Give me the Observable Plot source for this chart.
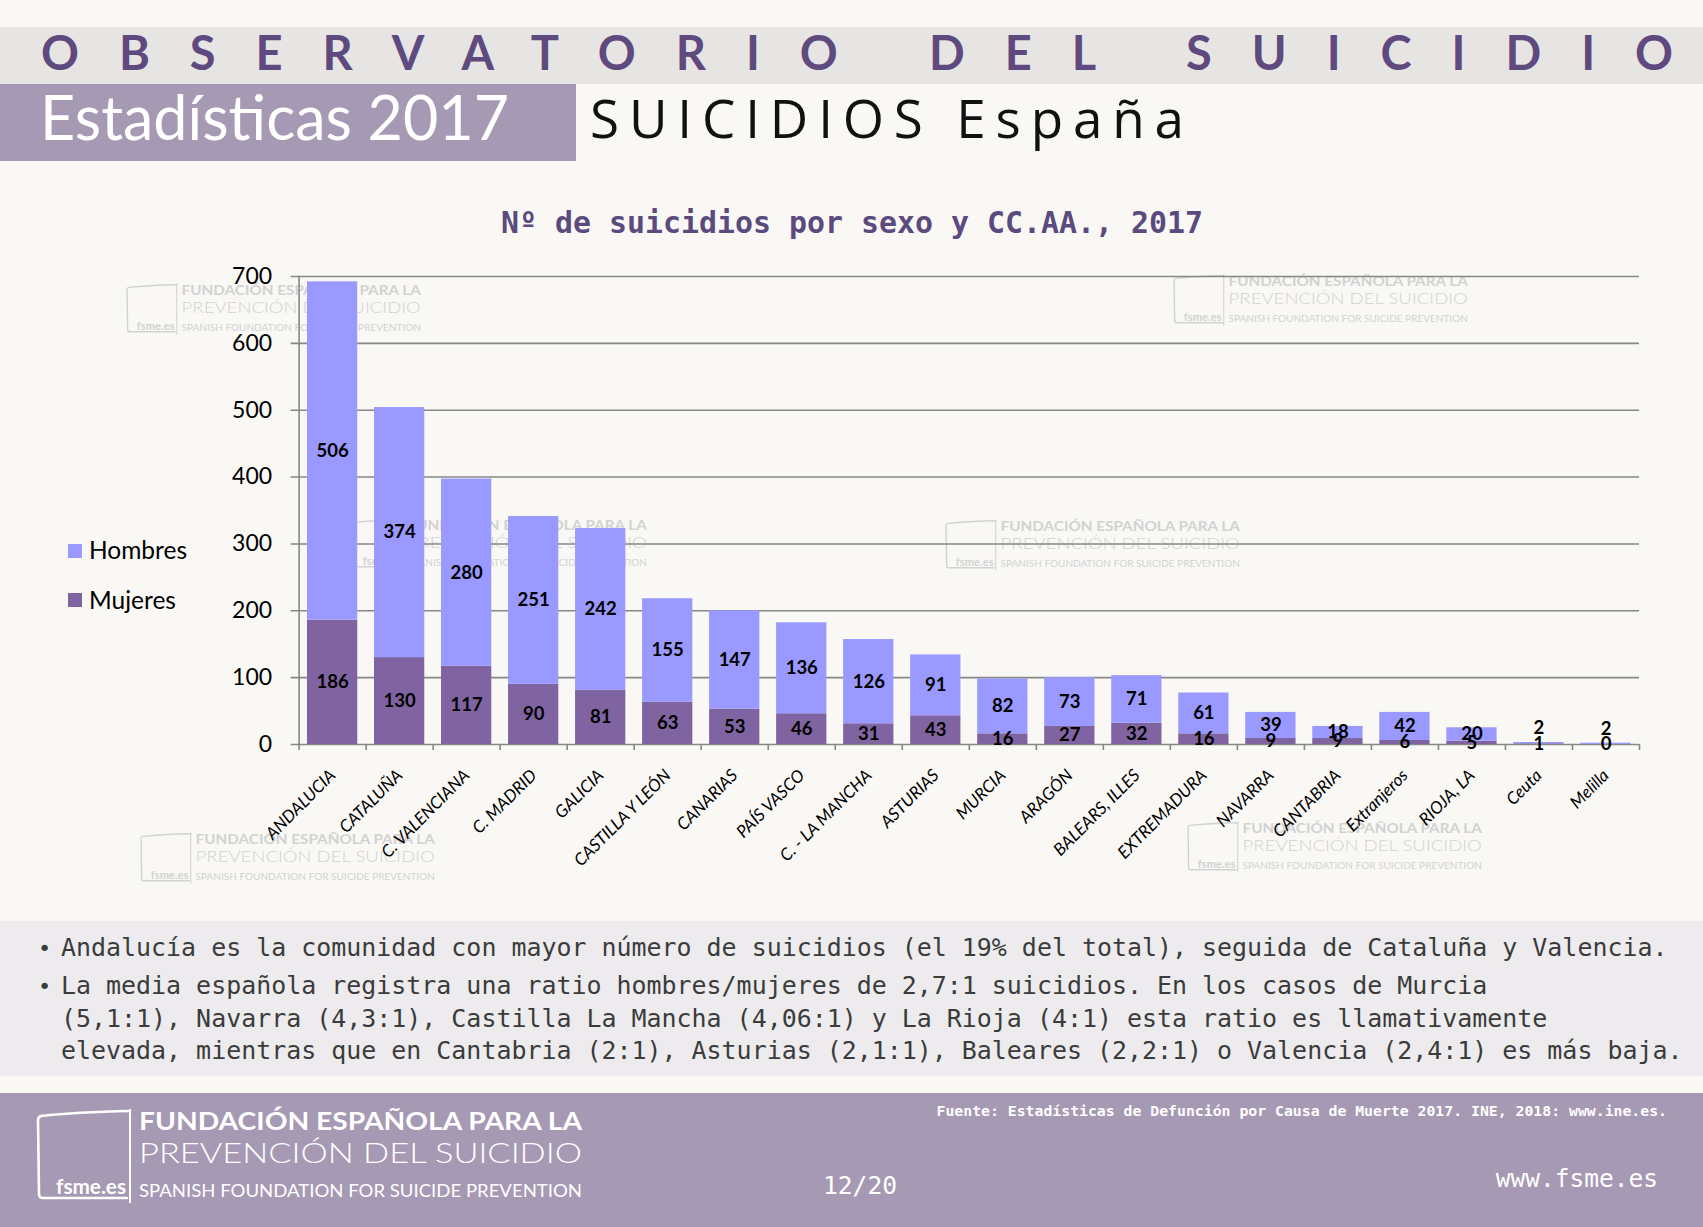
<!DOCTYPE html>
<html lang="es">
<head>
<meta charset="utf-8">
<title>Suicidios por sexo y CC.AA., 2017</title>
<script src="https://cdn.jsdelivr.net/npm/d3@7"></script>
<script src="https://cdn.jsdelivr.net/npm/@observablehq/plot@0.6"></script>
<style>
  html, body { margin: 0; padding: 0; background: #f9f8f5; }
  #page { position: relative; width: 1703px; height: 1227px; overflow: hidden; background: #f9f8f5; }
  #page svg { position: absolute; left: 0; }
</style>
</head>
<body>
<div id="page"></div>
<script>
// ---- Datos: suicidios por comunidad autónoma y sexo, 2017 ----
const regiones = ["ANDALUCIA", "CATALUÑA", "C. VALENCIANA", "C. MADRID", "GALICIA", "CASTILLA Y LEÓN",
  "CANARIAS", "PAÍS VASCO", "C. - LA MANCHA", "ASTURIAS", "MURCIA", "ARAGÓN", "BALEARS, ILLES",
  "EXTREMADURA", "NAVARRA", "CANTABRIA", "Extranjeros", "RIOJA, LA", "Ceuta", "Melilla"];
const hombres = [506, 374, 280, 251, 242, 155, 147, 136, 126, 91, 82, 73, 71, 61, 39, 18, 42, 20, 2, 2];
const mujeres = [186, 130, 117, 90, 81, 63, 53, 46, 31, 43, 16, 27, 32, 16, 9, 9, 6, 5, 1, 0];
const series = ["Hombres", "Mujeres"];
const colores = ["#9999ff", "#8064a2"];
const yTicks = [0, 100, 200, 300, 400, 500, 600, 700];

// ---- Textos ----
const cabecera = "OBSERVATORIO DEL SUICIDIO";
const subtitulo = "Estadísticas 2017";
const tema = "SUICIDIOS España";
const titulo = "Nº de suicidios por sexo y CC.AA., 2017";
const notas = [
  ["Andalucía es la comunidad con mayor número de suicidios (el 19% del total), seguida de Cataluña y Valencia."],
  ["La media española registra una ratio hombres/mujeres de 2,7:1 suicidios. En los casos de Murcia",
   "(5,1:1), Navarra (4,3:1), Castilla La Mancha (4,06:1) y La Rioja (4:1) esta ratio es llamativamente",
   "elevada, mientras que en Cantabria (2:1), Asturias (2,1:1), Baleares (2,2:1) o Valencia (2,4:1) es más baja."]
];
const fuente = "Fuente: Estadísticas de Defunción por Causa de Muerte 2017. INE, 2018: www.ine.es.";
const pagina = "12/20";
const web = "www.fsme.es";
const logoLineas = ["FUNDACIÓN ESPAÑOLA PARA LA", "PREVENCIÓN DEL SUICIDIO", "SPANISH FOUNDATION FOR SUICIDE PREVENTION"];
const logoSigla = "fsme.es";

const PURPURA = "#5e4a7e";
const MONO = "'DejaVu Sans Mono', 'Liberation Mono', monospace";
const SANS = "Lato, 'Open Sans', sans-serif";

const page = d3.select("#page");

// ---- Capa de fondo: cabecera, marcas de agua, notas y pie ----
const bg = page.append("svg").attr("width", 1703).attr("height", 1227).style("top", "0px");

// Logotipo de la fundación (se usa en el pie y como marca de agua)
function logo(parent, x, y, s, color) {
  const g = parent.append("g").attr("transform", `translate(${x},${y}) scale(${s})`);
  g.append("path")
    .attr("d", "M94,5 Q40,6 5,10 Q2,11 2,14 L3,88 Q3,92 7,92 L91,92")
    .attr("fill", "none").attr("stroke", color).attr("stroke-width", 2.6).attr("stroke-linecap", "round");
  g.append("line").attr("x1", 94).attr("x2", 94).attr("y1", 3).attr("y2", 97)
    .attr("stroke", color).attr("stroke-width", 2);
  g.append("text").attr("x", 20).attr("y", 88).attr("textLength", 70).attr("lengthAdjust", "spacingAndGlyphs")
    .attr("font-family", SANS).attr("font-weight", 700).attr("font-size", 21).attr("fill", color).text(logoSigla);
  const estilos = [
    {y: 24, size: 24, weight: 700},
    {y: 57, size: 28, weight: 300},
    {y: 91, size: 17, weight: 400}
  ];
  logoLineas.forEach((t, i) => {
    g.append("text").attr("x", 103).attr("y", estilos[i].y)
      .attr("textLength", 443).attr("lengthAdjust", "spacingAndGlyphs")
      .attr("font-family", SANS).attr("font-weight", estilos[i].weight)
      .attr("font-size", estilos[i].size).attr("fill", color).text(t);
  });
}

// Marcas de agua
const marcas = [[128, 285], [1175, 276], [354, 520], [947, 521], [142, 834], [1189, 823]];
marcas.forEach(([x, y]) => logo(bg, x - 2, y - 3, 0.54, "#d2d2d2"));

// Franja gris con el nombre del observatorio (espaciado amplio entre letras)
bg.append("rect").attr("x", 0).attr("y", 27).attr("width", 1703).attr("height", 57).attr("fill", "#e6e5e3");
bg.append("text").attr("x", 41).attr("y", 70)
  .attr("textLength", 1632).attr("lengthAdjust", "spacing")
  .attr("font-family", SANS).attr("font-weight", 700).attr("font-size", 47).attr("fill", PURPURA)
  .text(cabecera);

// Bloque "Estadísticas 2017" y tema
bg.append("rect").attr("x", 0).attr("y", 84).attr("width", 576).attr("height", 77).attr("fill", "#a599b4");
bg.append("text").attr("x", 40).attr("y", 140).attr("font-family", SANS).attr("font-size", 61)
  .attr("fill", "#ffffff").text(subtitulo);
bg.append("text").attr("x", 590).attr("y", 138).attr("font-family", "'Open Sans', sans-serif")
  .attr("font-size", 53).attr("textLength", 594).attr("lengthAdjust", "spacing")
  .attr("fill", "#111111").text(tema);

// Título del gráfico
bg.append("text").attr("x", 852).attr("y", 233).attr("text-anchor", "middle")
  .attr("font-family", MONO).attr("font-weight", 700).attr("font-size", 29.9)
  .attr("fill", "#5b4a7e").text(titulo);

// Leyenda
series.forEach((s, i) => {
  bg.append("rect").attr("x", 68).attr("y", 544 + i * 49).attr("width", 14).attr("height", 14).attr("fill", colores[i]);
  bg.append("text").attr("x", 89).attr("y", 559 + i * 49.5).attr("font-family", SANS)
    .attr("font-size", 24.5).attr("fill", "#000").text(s);
});

// Caja de notas
bg.append("rect").attr("x", 0).attr("y", 921).attr("width", 1703).attr("height", 155).attr("fill", "#edebee");
const baselines = [[956], [994, 1026.5, 1059]];
notas.forEach((lineas, k) => {
  bg.append("text").attr("x", 38).attr("y", baselines[k][0]).attr("font-family", MONO)
    .attr("font-size", 22).attr("fill", "#3b3b3b").text("•");
  lineas.forEach((t, j) => {
    bg.append("text").attr("x", 61).attr("y", baselines[k][j]).attr("font-family", MONO)
      .attr("font-size", 24.95).attr("fill", "#3b3b3b").text(t);
  });
});

// Pie de página
bg.append("rect").attr("x", 0).attr("y", 1093).attr("width", 1703).attr("height", 134).attr("fill", "#a699b4");
logo(bg, 36, 1106, 1, "#ffffff");
bg.append("text").attr("x", 1667).attr("y", 1116).attr("text-anchor", "end").attr("font-family", MONO)
  .attr("font-weight", 700).attr("font-size", 14.8).attr("fill", "#ffffff").text(fuente);
bg.append("text").attr("x", 860).attr("y", 1194).attr("text-anchor", "middle").attr("font-family", MONO)
  .attr("font-size", 24.6).attr("fill", "#ffffff").text(pagina);
bg.append("text").attr("x", 1658).attr("y", 1187).attr("text-anchor", "end").attr("font-family", MONO)
  .attr("font-size", 24.5).attr("fill", "#ffffff").text(web);

// ---- Gráfico de barras apiladas ----
const W = 1703, H = 640, mL = 298.6, mR = 64, mT = 36, mB = 136;
const paso = (W - mL - mR) / regiones.length;
const pxUnidad = (H - mT - mB) / 700;

const filas = regiones.flatMap((r, i) => [
  {region: r, sexo: "Mujeres", valor: mujeres[i], y1: 0, y2: mujeres[i]},
  {region: r, sexo: "Hombres", valor: hombres[i], y1: mujeres[i], y2: mujeres[i] + hombres[i]}
]);
// Segmentos casi invisibles: la etiqueta se coloca encima de la barra
const diminuto = d => d.sexo === "Hombres" && d.valor * pxUnidad < 3;

const gris = "#878787";
const etiqueta = {fontWeight: "bold", fontSize: 18.5, fill: "black"};

const chart = Plot.plot({
  width: W,
  height: H,
  marginLeft: mL,
  marginRight: mR,
  marginTop: mT,
  marginBottom: mB,
  style: {background: "transparent", fontFamily: SANS, overflow: "visible"},
  x: {domain: regiones, paddingInner: 0.25, paddingOuter: 0.125, round: false, axis: null},
  y: {domain: [0, 700], axis: null},
  color: {domain: series, range: colores},
  marks: [
    Plot.ruleY(yTicks, {stroke: gris, strokeWidth: 1.6, insetLeft: -8}),
    Plot.frame({anchor: "left", stroke: gris, strokeWidth: 1.6}),
    Plot.axisY(yTicks, {anchor: "left", tickSize: 0, tickPadding: 27, fontSize: 23, color: "black", label: null}),
    Plot.ruleX(regiones, {x: d => d, dx: -paso / 2, y1: 0, y2: 0, insetBottom: -6, stroke: gris, strokeWidth: 1.6}),
    Plot.ruleX(regiones.slice(-1), {x: d => d, dx: paso / 2, y1: 0, y2: 0, insetBottom: -6, stroke: gris, strokeWidth: 1.6}),
    Plot.barY(filas, {x: "region", y1: "y1", y2: "y2", fill: "sexo"}),
    Plot.text(filas.filter(d => !diminuto(d)), {x: "region", y: d => (d.y1 + d.y2) / 2, text: d => String(d.valor), ...etiqueta}),
    Plot.text(filas.filter(diminuto), {x: "region", y: "y2", dy: -14, text: d => String(d.valor), ...etiqueta}),
    Plot.text(regiones, {x: d => d, frameAnchor: "bottom", rotate: -45, textAnchor: "end", dx: 4, dy: 32,
      fontStyle: "italic", fontSize: 17, fill: "black"})
  ]
});
chart.style.top = "240px";
page.node().appendChild(chart);
</script>
</body>
</html>
